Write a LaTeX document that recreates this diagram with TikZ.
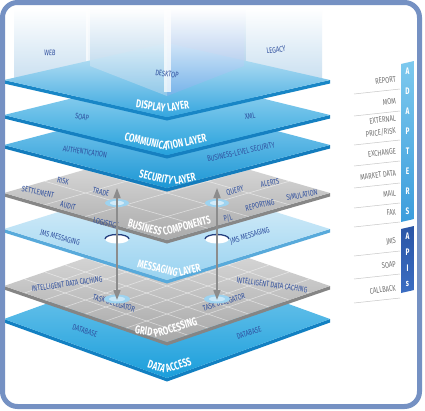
\documentclass[tikz,border=0pt]{standalone}
\usepackage{fontspec}
\usetikzlibrary{calc,arrows.meta}
\newfontfamily\condfont{Fira Sans}[FakeStretch=0.72]
\newfontfamily\titlefont{Fira Sans}[FakeStretch=0.68]
\definecolor{navy}{HTML}{2F4F9E}
\definecolor{framec}{HTML}{7591C3}
\definecolor{lblgray}{HTML}{707070}
\definecolor{daT}{HTML}{86CFF0}\definecolor{daB}{HTML}{1A9EDB}\definecolor{daE}{HTML}{1280C2}
\definecolor{gpT}{HTML}{E2E2E2}\definecolor{gpB}{HTML}{A8A8A8}\definecolor{gpE}{HTML}{858585}
\definecolor{msT}{HTML}{E4F3FB}\definecolor{msB}{HTML}{98D2F0}\definecolor{msE}{HTML}{58AADB}
\definecolor{bcT}{HTML}{E2E2E2}\definecolor{bcB}{HTML}{AAAAAA}\definecolor{bcE}{HTML}{878787}
\definecolor{scT}{HTML}{92D2F2}\definecolor{scB}{HTML}{1C97D5}\definecolor{scE}{HTML}{137CBD}
\definecolor{cmT}{HTML}{A6DAF3}\definecolor{cmB}{HTML}{25A1DC}\definecolor{cmE}{HTML}{1580C1}
\definecolor{dpT}{HTML}{CFE9F7}\definecolor{dpB}{HTML}{34A6DF}\definecolor{dpE}{HTML}{1886C6}
\definecolor{holeblue}{HTML}{9DD3F0}
\definecolor{adT}{HTML}{7DC9EE}\definecolor{adB}{HTML}{3C9DDC}
\definecolor{apT}{HTML}{2A55A6}\definecolor{apB}{HTML}{3B6DC2}
\definecolor{beam}{HTML}{B9D6EC}
\tikzset{
  lbl/.style={font=\condfont\fontsize{8}{9}\selectfont, text=navy, inner sep=0pt},
  ttl/.style={font=\titlefont\bfseries\fontsize{11.5}{12}\selectfont, text=white, inner sep=0pt},
  sidelbl/.style={font=\condfont\fontsize{8.2}{8.2}\selectfont, text=lblgray, inner sep=0pt, align=right, anchor=east, rotate=7},
  barlbl/.style={font=\titlefont\bfseries\fontsize{9.5}{9.5}\selectfont, text=white, inner sep=0pt},
  divline/.style={draw=black!22, line width=0.5pt},
  gridline/.style={draw=white, line width=0.6pt, opacity=0.5},
  twoarrow/.style={draw=black!45, line width=1.6pt, {Triangle[width=7pt,length=10pt]}-{Triangle[width=7pt,length=10pt]}},
}
\newcommand\mylayer[3]{%
  \coordinate (#1L) at (4,#2);
  \coordinate (#1R) at (330,#2);
  \coordinate (#1F) at (167,#2+#3);
  \coordinate (#1K) at (167,#2-#3);
  \fill[#1E] (#1L) -- (#1F) -- (#1R) -- ($(#1R)+(0,3.5)$) -- ($(#1F)+(0,3.5)$) -- ($(#1L)+(0,3.5)$) -- cycle;
  \shade[top color=#1T, bottom color=#1B] (#1L) -- (#1F) -- (#1R) -- (#1K) -- cycle;
}
\newcommand\gridlines[2]{%
  \foreach \gv in {#2}{
    \draw[gridline] ($(#1K)!\gv!(#1R)$) -- ($(#1L)!\gv!(#1F)$);
    \draw[gridline] ($(#1K)!\gv!(#1L)$) -- ($(#1R)!\gv!(#1F)$);
  }}
\begin{document}
\begin{tikzpicture}[x=1pt,y=-1pt]
\useasboundingbox (0,0) rectangle (425,410);
\fill[white] (0,0) rectangle (425,410);

% ---- data access
\mylayer{da}{319}{59}
\node[lbl, rotate=-18] (db1) at (85,331) {DATABASE};
\node[lbl, rotate=19] (db2) at (249,333) {DATABASE};
\node[ttl, anchor=base east, rotate=-18] (t7a) at (164,373) {DATA};
\node[ttl, anchor=base west, rotate=18] (t7b) at (167,373) {ACCESS};

% ---- grid processing
\mylayer{gp}{286}{56}
\gridlines{gp}{0.125,0.25,0.375,0.5,0.625,0.75,0.875}
\node[lbl, rotate=8] (idc1) at (67,284) {INTELLIGENT DATA CACHING};
\node[lbl, rotate=-8] (idc2) at (272,285) {INTELLIGENT DATA CACHING};
\node[lbl, rotate=-17] (td1) at (114,303) {TASK DELEGATOR};
\node[lbl, rotate=17] (td2) at (224,302) {TASK DELEGATOR};
\node[ttl, anchor=base east, rotate=-8] (t6a) at (152,336) {GRID};
\node[ttl, anchor=base west, rotate=17] (t6b) at (155,338) {PROCESSING};

% ---- messaging
\mylayer{ms}{229}{51}
\node[lbl, rotate=-15] (jm1) at (60,238) {JMS MESSAGING};
\node[lbl, rotate=17] (jm2) at (250,236) {JMS MESSAGING};
\node[ttl, anchor=base east, rotate=-14] (t5a) at (177,277) {MESSAGING};
\node[ttl, anchor=base west, rotate=14] (t5b) at (180,277) {LAYER};

% ---- business components
\mylayer{bc}{193}{47}
\gridlines{bc}{0.25,0.5,0.75}
\node[lbl, rotate=-10] (risk) at (63,181) {RISK};
\node[lbl, rotate=-12] (sett) at (38,192) {SETTLEMENT};
\node[lbl, rotate=-14] (trade) at (101,192) {TRADE};
\node[lbl, rotate=-14] (audit) at (68,206) {AUDIT};
\node[lbl, rotate=-13] (logi) at (106,223) {LOGISTICS};
\node[lbl, rotate=14] (query) at (235,191) {QUERY};
\node[lbl, rotate=12] (alerts) at (270,183) {ALERTS};
\node[lbl, rotate=13] (repo) at (260,205) {REPORTING};
\node[lbl, rotate=12] (simu) at (302,195) {SIMULATION};
\node[lbl, rotate=14] (pl) at (228,218) {P/L};
\node[ttl, anchor=base east, rotate=-15] (t4a) at (161,236) {BUSINESS};
\node[ttl, anchor=base west, rotate=15] (t4b) at (164,236) {COMPONENTS};

% ---- security
\mylayer{sc}{145}{43}
\node[lbl, rotate=-9] (auth) at (85,152) {AUTHENTICATION};
\node[lbl, rotate=12] (bls) at (241,152) {BUSINESS-LEVEL SECURITY};
\node[ttl, anchor=base east, rotate=-13] (t3a) at (172,185) {SECURITY};
\node[ttl, anchor=base west, rotate=13] (t3b) at (175,185) {LAYER};

% ---- communication
\mylayer{cm}{115}{40}
\node[lbl, rotate=-9] (soap1) at (82,117) {SOAP};
\node[lbl, rotate=9] (xml) at (250,116) {XML};
\node[ttl, anchor=base east, rotate=-12] (t2a) at (167,150) {COMMUNICA};
\node[ttl, anchor=base west, rotate=12] (t2b) at (167,150) {TION LAYER};

% ---- back panels
\shade[top color=white, bottom color=beam!75] (14,8) -- (88,8) -- (88,62) -- (14,79) -- cycle;
\shade[top color=white, bottom color=beam!75] (246,8) -- (322,8) -- (322,79) -- (246,62) -- cycle;
\shade[top color=white, bottom color=beam] (88,8) -- (246,8) -- (246,62) -- (167,44) -- (88,62) -- cycle;
\fill[white, opacity=0.7] (86,10) rectangle (90,62);
\node[lbl, rotate=-4] (web) at (50,53) {WEB};
\node[lbl, rotate=7] (legacy) at (276,50) {LEGACY};

% ---- display
\mylayer{dp}{80}{37}
\shade[top color=white, bottom color=beam, fill opacity=0.55] (90,8) -- (167,8) -- (167,96) -- (90,66) -- cycle;
\shade[top color=white, bottom color=beam!80!blue, fill opacity=0.4] (167,8) -- (244,8) -- (244,66) -- (167,96) -- cycle;
\fill[white, opacity=0.75] (164,8) rectangle (171,92);
\node[lbl, rotate=-8] (desk) at (167,74) {DESKTOP};
\node[ttl, anchor=base east, rotate=-8] (t1a) at (165,112) {DISPLAY};
\node[ttl, anchor=base west, rotate=10] (t1b) at (168,112) {LAYER};

% ---- holes and arrows
\coordinate (h1) at (117,203); \coordinate (h2) at (217,203);
\coordinate (m1) at (117,239); \coordinate (m2) at (217,239);
\coordinate (g1) at (117,299); \coordinate (g2) at (217,299);
\foreach \hp in {h1,h2}{
  \fill[holeblue] (\hp) ellipse [x radius=12, y radius=4];
  \fill[white!55!holeblue] (\hp) ellipse [x radius=7, y radius=2.2];
}
\foreach \hp in {m1,m2}{
  \fill[white] (\hp) ellipse [x radius=12, y radius=4.5];
  \draw[navy!80!black, line width=1.3pt] ($(\hp)+(-12,0)$) arc[start angle=180, end angle=360, x radius=12, y radius=4.5];
}
\foreach \hp in {g1,g2}{
  \fill[holeblue] (\hp) ellipse [x radius=13, y radius=4.5];
  \fill[white!45!holeblue] (\hp) ellipse [x radius=8, y radius=2.5];
}
\coordinate (a1t) at (117,188); \coordinate (a1b) at (117,300);
\coordinate (a2t) at (217,188); \coordinate (a2b) at (217,300);
\draw[twoarrow] (a1t) -- (a1b);
\draw[twoarrow] (a2t) -- (a2b);

% ---- right panel
\shade[top color=adT, bottom color=adB] (401,64) -- (414,61) -- (414,219) -- (401,222) -- cycle;
\foreach \lett [count=\i from 0] in {A,D,A,P,T,E,R,S}
  \node[barlbl] (ad\i) at (407.5,71+20*\i) {\lett};
\shade[top color=apT, bottom color=apB] (401,229) -- (414,226) -- (414,290) -- (401,293) -- cycle;
\foreach \lett [count=\i from 0] in {A,P,I,s}
  \node[barlbl] (ap\i) at (407.5,236+16*\i) {\lett};

\node[sidelbl] (s1) at (396,79) {REPORT};
\node[sidelbl] (s2) at (396,101) {MOM};
\node[sidelbl] (s3a) at (396,118) {EXTERNAL};
\node[sidelbl] (s3b) at (396,130.5) {PRICE/RISK};
\node[sidelbl] (s4) at (396,151) {EXCHANGE};
\node[sidelbl] (s5) at (396,173) {MARKET DATA};
\node[sidelbl] (s6) at (396,193) {MAIL};
\node[sidelbl] (s7) at (396,212) {FAX};
\node[sidelbl] (s8) at (396,241) {JMS};
\node[sidelbl] (s9) at (396,264) {SOAP};
\node[sidelbl] (s10) at (396,288) {CALLBACK};
\foreach \yy in {89,111,140,161,183,203,222,251,274,298}
  \draw[divline] (354,\yy+5) -- (400,\yy);

% ---- frame
\draw[framec, line width=5pt, rounded corners=15pt] (2.5,2.5) rectangle (419.5,406.5);
\end{tikzpicture}
\end{document}
